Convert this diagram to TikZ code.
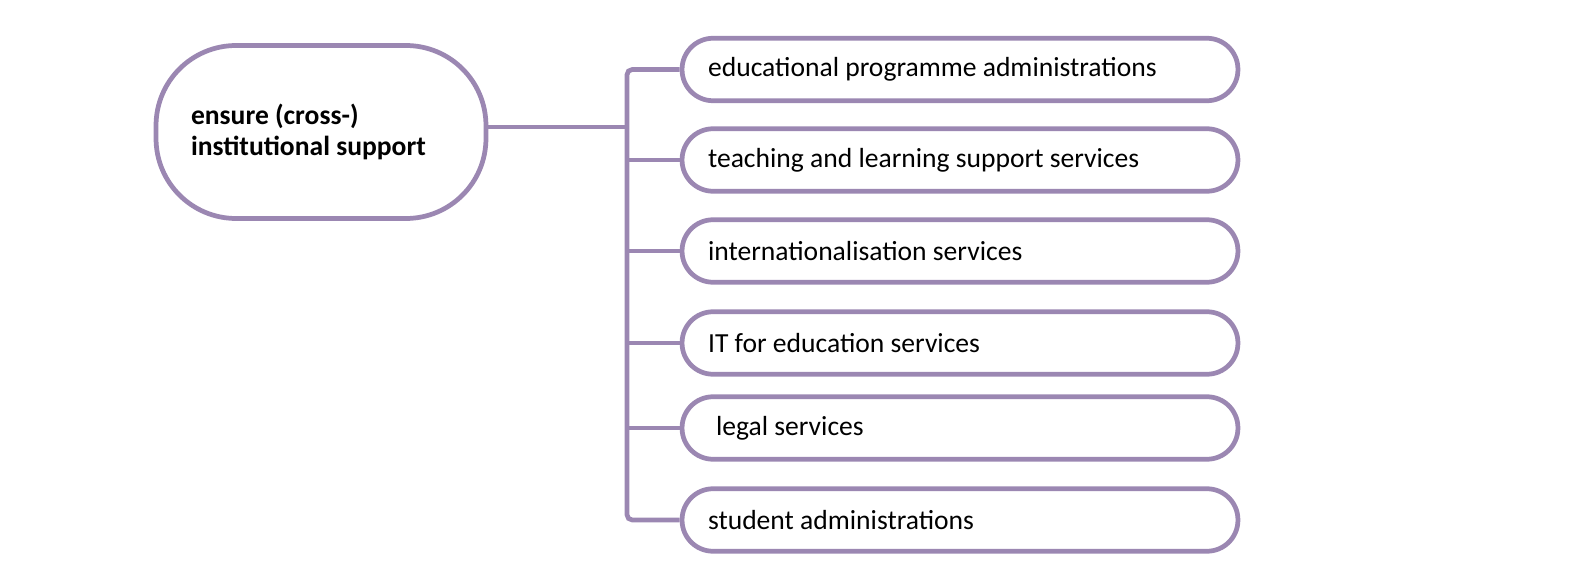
\documentclass[tikz,border=0pt]{standalone}
\usepackage{fontspec}
\setmainfont{Carlito}
\usetikzlibrary{calc}

\definecolor{lilac}{RGB}{155,135,178}

\begin{document}
\begin{tikzpicture}[x=0.02cm, y=-0.02cm,
    link/.style={draw=lilac, line width=2.7pt},
    topic/.style={draw=lilac, line width=2.7pt, fill=white, rounded corners=1.6cm,
        minimum width=6.6cm, minimum height=3.46cm, text width=5.2cm,
        execute at begin node={\spaceskip=0pt\xspaceskip=0pt},
        font=\fontsize{15.7}{18}\selectfont\bfseries},
    service/.style={draw=lilac, line width=2.7pt, fill=white, rounded corners=0.62cm,
        minimum width=11.12cm, minimum height=1.25cm, text width=10.08cm,
        execute at begin node={\spaceskip=0pt\xspaceskip=0pt},
        font=\fontsize{15.7}{18}\selectfont}]

\useasboundingbox (0,0) rectangle (1580,574);

\node[topic] (main) at (321,132) {ensure (cross-)\\institutional support};

\foreach \name/\y/\txt in {
    prog/69.5/educational programme administrations,
    teach/160/teaching and learning support services,
    intl/251/internationalisation services,
    it/343/IT for education services,
    legal/428/\hspace*{0.16cm}legal services,
    admin/520/student administrations} {
    \node[service] (\name) at (960,\y) {\txt};
}

% the bus between topic and services
\coordinate (hub) at (627,127);
\draw[link] (main.east |- hub) -- (hub);
\draw[link, rounded corners=3pt] (prog.west) -| (hub) |- (admin.west);
\foreach \name in {teach, intl, it, legal} {
    \draw[link] (hub |- \name.west) -- (\name.west);
}

\end{tikzpicture}
\end{document}
